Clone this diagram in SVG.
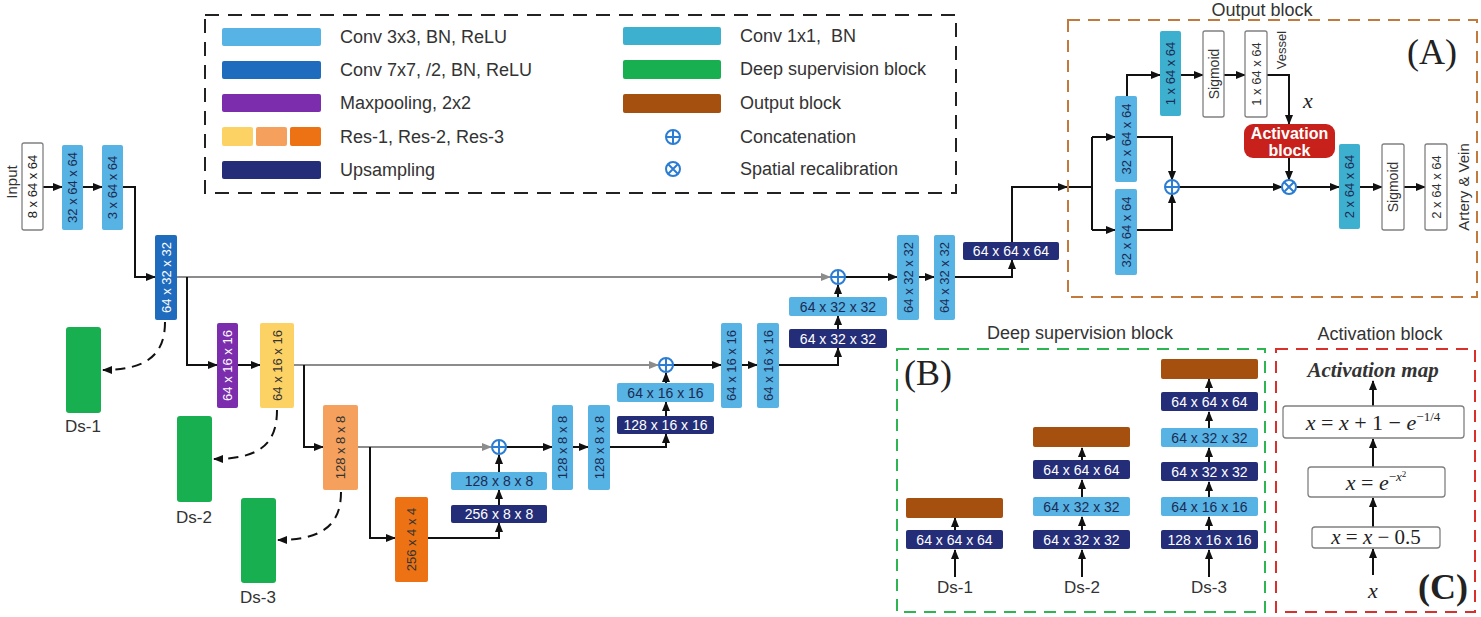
<svg xmlns="http://www.w3.org/2000/svg" width="1481" height="617" viewBox="0 0 1481 617">
<style>
text{font-family:"Liberation Sans",Arial,sans-serif}
.c3{fill:#56B3E3}.c7{fill:#1F6CBE}.mp{fill:#7B2DAE}.r1{fill:#FDD265}.r2{fill:#F5A15D}.r3{fill:#EC7213}.up{fill:#242D78}.c1{fill:#3EB0CF}.ds{fill:#17AF4F}.ob{fill:#A5500F}
.wb{fill:#fff;stroke:#808080;stroke-width:1.3}
.t{font-size:13px;text-anchor:middle;dominant-baseline:central}
.h{font-size:14px}
.dk{fill:#1d2b55}.wt{fill:#fff}
.lg{font-size:18px;fill:#333;dominant-baseline:central}
.ttl{font-size:18px;fill:#333;text-anchor:middle;dominant-baseline:central}
.dsl{font-size:17px;fill:#333;text-anchor:middle;dominant-baseline:central}
.ln{stroke:#111;stroke-width:2;fill:none}
.gr{stroke:#8c8c8c;stroke-width:2;fill:none}
.dsh{stroke:#111;stroke-width:2;fill:none;stroke-dasharray:10 7}
.ser{font-family:"Liberation Serif","Times New Roman",serif}
</style>
<defs>
<marker id="ah" markerWidth="10" markerHeight="8" refX="9" refY="4" orient="auto" markerUnits="userSpaceOnUse"><path d="M0,0 L10,4 L0,8 z" fill="#111"/></marker>
<marker id="ag" markerWidth="10" markerHeight="8" refX="9" refY="4" orient="auto" markerUnits="userSpaceOnUse"><path d="M0,0 L10,4 L0,8 z" fill="#8c8c8c"/></marker>
<g id="cat"><circle r="7" fill="#fff" stroke="#2B7CD3" stroke-width="2"/><path d="M-7,0H7M0,-7V7" stroke="#2B7CD3" stroke-width="2"/></g>
<g id="mul"><circle r="7" fill="#fff" stroke="#2B7CD3" stroke-width="2"/><path d="M-5,-5L5,5M-5,5L5,-5" stroke="#2B7CD3" stroke-width="2"/></g>
</defs>
<rect width="1481" height="617" fill="#fff"/>

<!-- Legend -->
<g id="legend">
<rect x="205" y="15" width="751" height="178" fill="none" stroke="#222" stroke-width="2" stroke-dasharray="14 9"/>
<rect x="222" y="28" width="99" height="18" rx="2" class="c3"/><text x="340" y="37" class="lg">Conv 3x3, BN, ReLU</text>
<rect x="222" y="61" width="99" height="18" rx="2" class="c7"/><text x="340" y="70" class="lg">Conv 7x7, /2, BN, ReLU</text>
<rect x="222" y="94" width="99" height="18" rx="2" class="mp"/><text x="340" y="103" class="lg">Maxpooling, 2x2</text>
<rect x="222" y="127" width="31" height="19" rx="2" class="r1"/><rect x="256" y="127" width="31" height="19" rx="2" class="r2"/><rect x="290" y="127" width="31" height="19" rx="2" class="r3"/><text x="340" y="137" class="lg">Res-1, Res-2, Res-3</text>
<rect x="222" y="161" width="99" height="18" rx="2" class="up"/><text x="340" y="170" class="lg">Upsampling</text>
<rect x="623" y="27" width="98" height="18" rx="2" class="c1"/><text x="740" y="36" class="lg">Conv 1x1,&#160; BN</text>
<rect x="623" y="60" width="98" height="19" rx="2" class="ds"/><text x="740" y="69" class="lg">Deep supervision block</text>
<rect x="623" y="94" width="98" height="19" rx="2" class="ob"/><text x="740" y="103" class="lg">Output block</text>
<use href="#cat" x="673" y="137"/><text x="740" y="137" class="lg">Concatenation</text>
<use href="#mul" x="673" y="169"/><text x="740" y="169" class="lg">Spatial recalibration</text>
</g>

<!-- Connectors -->
<g id="connectors">
<path class="ln" marker-end="url(#ah)" d="M43,187H62"/>
<path class="ln" marker-end="url(#ah)" d="M83,187H102"/>
<path class="ln" marker-end="url(#ah)" d="M123,187H135V277H155"/>
<path class="gr" marker-end="url(#ag)" d="M177,277H830"/>
<path class="ln" marker-end="url(#ah)" d="M187,277V365H217"/>
<path class="ln" marker-end="url(#ah)" d="M238,365H260"/>
<path class="gr" marker-end="url(#ag)" d="M294,365H658"/>
<path class="ln" marker-end="url(#ah)" d="M304,365V447H323"/>
<path class="gr" marker-end="url(#ag)" d="M358,447H491"/>
<path class="ln" marker-end="url(#ah)" d="M370,447V538H395"/>
<path class="ln" marker-end="url(#ah)" d="M428,538H499V523"/>
<path class="ln" marker-end="url(#ah)" d="M499,505V490"/>
<path class="ln" marker-end="url(#ah)" d="M499,472V455"/>
<path class="ln" marker-end="url(#ah)" d="M506,447H552"/>
<path class="ln" marker-end="url(#ah)" d="M573,447H588"/>
<path class="ln" marker-end="url(#ah)" d="M610,447H666V434"/>
<path class="ln" marker-end="url(#ah)" d="M666,416V402"/>
<path class="ln" marker-end="url(#ah)" d="M666,383V373"/>
<path class="ln" marker-end="url(#ah)" d="M673,365H721"/>
<path class="ln" marker-end="url(#ah)" d="M742,365H757"/>
<path class="ln" marker-end="url(#ah)" d="M779,365H838V348"/>
<path class="ln" marker-end="url(#ah)" d="M838,329V316"/>
<path class="ln" marker-end="url(#ah)" d="M838,297V285"/>
<path class="ln" marker-end="url(#ah)" d="M845,277H897"/>
<path class="ln" marker-end="url(#ah)" d="M919,277H934"/>
<path class="ln" marker-end="url(#ah)" d="M955,277H1012V260"/>
<path class="ln" marker-end="url(#ah)" d="M1012,242V187H1067"/>
<path class="ln" d="M1066,187H1092M1092,137V230"/>
<path class="ln" marker-end="url(#ah)" d="M1092,137H1115"/>
<path class="ln" marker-end="url(#ah)" d="M1092,230H1115"/>
<path class="ln" marker-end="url(#ah)" d="M1127,96V75H1160"/>
<path class="ln" marker-end="url(#ah)" d="M1181,75H1203"/>
<path class="ln" marker-end="url(#ah)" d="M1224,75H1245"/>
<path class="ln" marker-end="url(#ah)" d="M1267,75H1289V124"/>
<path class="ln" marker-end="url(#ah)" d="M1137,137H1172V180"/>
<path class="ln" marker-end="url(#ah)" d="M1137,230H1172V194"/>
<path class="ln" marker-end="url(#ah)" d="M1179,187H1282"/>
<path class="ln" marker-end="url(#ah)" d="M1289,158V180"/>
<path class="ln" marker-end="url(#ah)" d="M1296,187H1339"/>
<path class="ln" marker-end="url(#ah)" d="M1360,187H1382"/>
<path class="ln" marker-end="url(#ah)" d="M1404,187H1425"/>
<path class="dsh" marker-end="url(#ah)" d="M165,322C165,352 150,370 103,370"/>
<path class="dsh" marker-end="url(#ah)" d="M277,410C277,442 262,459 214,459"/>
<path class="dsh" marker-end="url(#ah)" d="M341,492C341,522 326,540 278,540"/>
<!-- deep supervision panel -->
<path class="ln" marker-end="url(#ah)" d="M955,577V550"/>
<path class="ln" marker-end="url(#ah)" d="M955,530V518"/>
<path class="ln" marker-end="url(#ah)" d="M1082,577V550"/>
<path class="ln" marker-end="url(#ah)" d="M1082,530V517"/>
<path class="ln" marker-end="url(#ah)" d="M1082,497V480"/>
<path class="ln" marker-end="url(#ah)" d="M1082,460V448"/>
<path class="ln" marker-end="url(#ah)" d="M1209,577V550"/>
<path class="ln" marker-end="url(#ah)" d="M1209,530V517"/>
<path class="ln" marker-end="url(#ah)" d="M1209,497V482"/>
<path class="ln" marker-end="url(#ah)" d="M1209,462V448"/>
<path class="ln" marker-end="url(#ah)" d="M1209,428V412"/>
<path class="ln" marker-end="url(#ah)" d="M1209,392V379"/>
<!-- activation panel -->
<path class="ln" marker-end="url(#ah)" d="M1373,575V549"/>
<path class="ln" marker-end="url(#ah)" d="M1373,527V498"/>
<path class="ln" marker-end="url(#ah)" d="M1373,467V439"/>
<path class="ln" marker-end="url(#ah)" d="M1373,406V381"/>
</g>

<!-- Main network nodes -->
<g id="input"><rect x="22" y="143" width="21" height="87" rx="2" class="wb"/><text class="t" fill="#222" transform="translate(32.5,186.5) rotate(-90)">8 x 64 x 64</text>
<text font-size="15" fill="#333" text-anchor="middle" dominant-baseline="central" transform="translate(11,182) rotate(-90)">Input</text></g>
<g id="n1"><rect x="62" y="145" width="21" height="85" rx="2" class="c3"/><text class="t dk" transform="translate(72.5,187.5) rotate(-90)">32 x 64 x 64</text></g>
<g id="n2"><rect x="102" y="145" width="21" height="85" rx="2" class="c3"/><text class="t dk" transform="translate(112.5,187.5) rotate(-90)">3 x 64 x 64</text></g>
<g id="n3"><rect x="155" y="235" width="22" height="85" rx="2" class="c7"/><text class="t wt" transform="translate(166,277.5) rotate(-90)">64 x 32 x 32</text></g>
<g id="n4"><rect x="217" y="323" width="21" height="85" rx="2" class="mp"/><text class="t wt" transform="translate(227.5,365.5) rotate(-90)">64 x 16 x 16</text></g>
<g id="n5"><rect x="260" y="323" width="34" height="85" rx="2" class="r1"/><text class="t" fill="#333" transform="translate(277,365.5) rotate(-90)">64 x 16 x 16</text></g>
<g id="n6"><rect x="323" y="405" width="35" height="85" rx="2" class="r2"/><text class="t" fill="#333" transform="translate(340.5,447.5) rotate(-90)">128 x 8 x 8</text></g>
<g id="n7"><rect x="395" y="497" width="33" height="85" rx="2" class="r3"/><text class="t" fill="#333" transform="translate(411.5,539.5) rotate(-90)">256 x 4 x 4</text></g>
<g id="n8"><rect x="451" y="505" width="96" height="18" rx="2" class="up"/><text x="499" y="514" class="t h wt">256 x 8 x 8</text></g>
<g id="n9"><rect x="451" y="472" width="96" height="18" rx="2" class="c3"/><text x="499" y="481" class="t h dk">128 x 8 x 8</text></g>
<g id="n10"><rect x="552" y="405" width="21" height="85" rx="2" class="c3"/><text class="t dk" transform="translate(562.5,447.5) rotate(-90)">128 x 8 x 8</text></g>
<g id="n11"><rect x="588" y="405" width="22" height="85" rx="2" class="c3"/><text class="t dk" transform="translate(599,447.5) rotate(-90)">128 x 8 x 8</text></g>
<g id="n12"><rect x="617" y="416" width="97" height="18" rx="2" class="up"/><text x="665.5" y="425" class="t h wt">128 x 16 x 16</text></g>
<g id="n13"><rect x="617" y="383" width="97" height="19" rx="2" class="c3"/><text x="665.5" y="392.5" class="t h dk">64 x 16 x 16</text></g>
<g id="n14"><rect x="721" y="323" width="21" height="85" rx="2" class="c3"/><text class="t dk" transform="translate(731.5,365.5) rotate(-90)">64 x 16 x 16</text></g>
<g id="n15"><rect x="757" y="323" width="22" height="85" rx="2" class="c3"/><text class="t dk" transform="translate(768,365.5) rotate(-90)">64 x 16 x 16</text></g>
<g id="n16"><rect x="789" y="329" width="98" height="19" rx="2" class="up"/><text x="838" y="338.5" class="t h wt">64 x 32 x 32</text></g>
<g id="n17"><rect x="789" y="297" width="98" height="19" rx="2" class="c3"/><text x="838" y="306.5" class="t h dk">64 x 32 x 32</text></g>
<g id="n18"><rect x="897" y="235" width="22" height="85" rx="2" class="c3"/><text class="t dk" transform="translate(908,277.5) rotate(-90)">64 x 32 x 32</text></g>
<g id="n19"><rect x="934" y="235" width="21" height="85" rx="2" class="c3"/><text class="t dk" transform="translate(944.5,277.5) rotate(-90)">64 x 32 x 32</text></g>
<g id="n20"><rect x="963" y="242" width="96" height="18" rx="2" class="up"/><text x="1011" y="251" class="t h wt">64 x 64 x 64</text></g>
<g id="cat1"><use href="#cat" x="499" y="447"/></g>
<g id="cat2"><use href="#cat" x="666" y="365"/></g>
<g id="cat3"><use href="#cat" x="838" y="277"/></g>
<g id="ds1"><rect x="66" y="327" width="35" height="86" rx="3" class="ds"/><text x="83" y="426" class="dsl">Ds-1</text></g>
<g id="ds2"><rect x="177" y="416" width="35" height="86" rx="3" class="ds"/><text x="194" y="517" class="dsl">Ds-2</text></g>
<g id="ds3"><rect x="241" y="498" width="35" height="85" rx="3" class="ds"/><text x="258" y="597" class="dsl">Ds-3</text></g>

<!-- Output block (A) -->
<g id="output-block">
<rect x="1068" y="20" width="409" height="277" fill="none" stroke="#C27A3C" stroke-width="2" stroke-dasharray="12 8"/>
<text x="1262" y="10" class="ttl">Output block</text>
<text x="1432" y="52" class="ser" font-size="36" fill="#222" text-anchor="middle" dominant-baseline="central">(A)</text>
</g>
<g id="ob1"><rect x="1115" y="96" width="22" height="86" rx="2" class="c3"/><text class="t dk" transform="translate(1126,139) rotate(-90)">32 x 64 x 64</text></g>
<g id="ob2"><rect x="1115" y="189" width="22" height="86" rx="2" class="c3"/><text class="t dk" transform="translate(1126,232) rotate(-90)">32 x 64 x 64</text></g>
<g id="ob3"><rect x="1160" y="31" width="21" height="85" rx="2" class="c1"/><text class="t dk" transform="translate(1170.5,73.5) rotate(-90)">1 x 64 x 64</text></g>
<g id="ob4"><rect x="1203" y="31" width="21" height="86" rx="2" class="wb"/><text class="t h" fill="#333" transform="translate(1213.5,74) rotate(-90)">Sigmoid</text></g>
<g id="ob5"><rect x="1245" y="31" width="22" height="86" rx="2" class="wb"/><text class="t" fill="#333" transform="translate(1256,74) rotate(-90)">1 x 64 x 64</text>
<text class="t" fill="#333" transform="translate(1281,50) rotate(-90)">Vessel</text></g>
<text x="1308" y="100" class="ser" font-style="italic" font-size="22" fill="#222" text-anchor="middle" dominant-baseline="central">x</text>
<g id="act"><rect x="1244" y="124" width="91" height="34" rx="9" fill="#C8211B"/><text x="1289.5" y="133" class="t wt" style="font-size:16px;font-weight:bold">Activation</text><text x="1289.5" y="150" class="t wt" style="font-size:16px;font-weight:bold">block</text></g>
<g id="cat4"><use href="#cat" x="1172" y="187"/></g>
<g id="mul1"><use href="#mul" x="1289" y="187"/></g>
<g id="ob6"><rect x="1339" y="144" width="21" height="85" rx="2" class="c1"/><text class="t dk" transform="translate(1349.5,186.5) rotate(-90)">2 x 64 x 64</text></g>
<g id="ob7"><rect x="1382" y="144" width="22" height="86" rx="2" class="wb"/><text class="t h" fill="#333" transform="translate(1393,187) rotate(-90)">Sigmoid</text></g>
<g id="ob8"><rect x="1425" y="144" width="22" height="86" rx="2" class="wb"/><text class="t" fill="#333" transform="translate(1436,187) rotate(-90)">2 x 64 x 64</text>
<text class="t" style="font-size:15px" fill="#333" transform="translate(1463,187) rotate(-90)">Artery &amp; Vein</text></g>

<!-- Deep supervision block (B) -->
<g id="ds-block">
<rect x="897" y="349" width="368" height="263" fill="none" stroke="#2DB552" stroke-width="2" stroke-dasharray="12 8"/>
<text x="1080" y="333" class="ttl">Deep supervision block</text>
<text x="928" y="373" class="ser" font-size="36" fill="#222" text-anchor="middle" dominant-baseline="central">(B)</text>
</g>
<g id="dsb1">
<rect x="906" y="498" width="97" height="20" rx="2" class="ob"/>
<rect x="906" y="530" width="97" height="19" rx="2" class="up"/><text x="954.5" y="539.5" class="t h wt">64 x 64 x 64</text>
<text x="955" y="587" class="dsl">Ds-1</text>
</g>
<g id="dsb2">
<rect x="1033" y="427" width="97" height="20" rx="2" class="ob"/>
<rect x="1033" y="460" width="97" height="19" rx="2" class="up"/><text x="1081.5" y="469.5" class="t h wt">64 x 64 x 64</text>
<rect x="1033" y="497" width="97" height="19" rx="2" class="c3"/><text x="1081.5" y="506.5" class="t h dk">64 x 32 x 32</text>
<rect x="1033" y="530" width="97" height="19" rx="2" class="up"/><text x="1081.5" y="539.5" class="t h wt">64 x 32 x 32</text>
<text x="1082" y="587" class="dsl">Ds-2</text>
</g>
<g id="dsb3">
<rect x="1161" y="359" width="97" height="20" rx="2" class="ob"/>
<rect x="1161" y="392" width="97" height="19" rx="2" class="up"/><text x="1209.5" y="401.5" class="t h wt">64 x 64 x 64</text>
<rect x="1161" y="428" width="97" height="19" rx="2" class="c3"/><text x="1209.5" y="437.5" class="t h dk">64 x 32 x 32</text>
<rect x="1161" y="462" width="97" height="19" rx="2" class="up"/><text x="1209.5" y="471.5" class="t h wt">64 x 32 x 32</text>
<rect x="1161" y="497" width="97" height="19" rx="2" class="c3"/><text x="1209.5" y="506.5" class="t h dk">64 x 16 x 16</text>
<rect x="1161" y="530" width="97" height="19" rx="2" class="up"/><text x="1209.5" y="539.5" class="t h wt">128 x 16 x 16</text>
<text x="1209" y="587" class="dsl">Ds-3</text>
</g>

<!-- Activation block (C) -->
<g id="act-block">
<rect x="1276" y="349" width="199" height="263" fill="none" stroke="#D9302C" stroke-width="2" stroke-dasharray="12 8"/>
<text x="1380" y="334" class="ttl">Activation block</text>
<text x="1373" y="377" class="ser" font-style="italic" font-weight="bold" font-size="21" fill="#333" text-anchor="middle">Activation map</text>
<text x="1443" y="587" class="ser" font-weight="bold" font-size="36" fill="#222" text-anchor="middle" dominant-baseline="central">(C)</text>
</g>
<g id="eq1"><rect x="1283" y="406" width="181" height="32" rx="3" class="wb"/>
<text x="1373" y="430" class="ser" font-size="22" fill="#222" text-anchor="middle"><tspan font-style="italic">x</tspan> = <tspan font-style="italic">x</tspan> + 1 − <tspan font-style="italic">e</tspan><tspan font-size="13" dy="-9">−1/4</tspan></text></g>
<g id="eq2"><rect x="1308" y="467" width="137" height="30" rx="3" class="wb"/>
<text x="1376" y="490" class="ser" font-size="22" fill="#222" text-anchor="middle"><tspan font-style="italic">x</tspan> = <tspan font-style="italic">e</tspan><tspan font-size="13" dy="-9">−<tspan font-style="italic">x</tspan></tspan><tspan font-size="9" dy="-4">2</tspan></text></g>
<g id="eq3"><rect x="1312" y="527" width="128" height="21" rx="3" class="wb"/>
<text x="1376" y="544" class="ser" font-size="21" fill="#222" text-anchor="middle"><tspan font-style="italic">x</tspan> = <tspan font-style="italic">x</tspan> − 0.5</text></g>
<text x="1373" y="590" class="ser" font-style="italic" font-size="22" fill="#222" text-anchor="middle" dominant-baseline="central">x</text>
</svg>
